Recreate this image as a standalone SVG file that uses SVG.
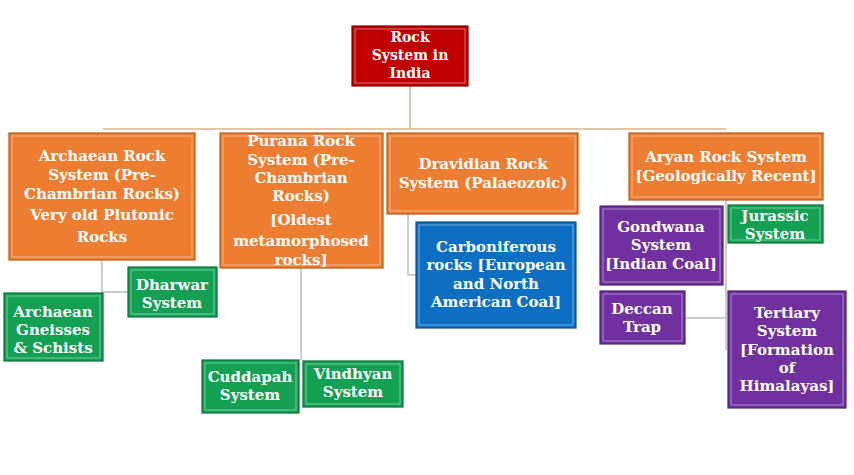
<svg xmlns="http://www.w3.org/2000/svg" width="854" height="475" viewBox="0 0 854 475">
<style>
text{font-family:"DejaVu Serif","Liberation Serif",serif;font-weight:bold;font-size:15px;fill:#fff;text-anchor:middle}
.o{fill:#ed7d31;stroke:#b85a1c;stroke-width:1.2}
.g{fill:#14a052;stroke:#0b6e37;stroke-width:1.2}
.b{fill:#0c6fc4;stroke:#0a4d8a;stroke-width:1.2}
.p{fill:#7030a0;stroke:#4d2070;stroke-width:1.2}
.r{fill:#c00000;stroke:#7a0000;stroke-width:1.2}
.in{fill:none;stroke:#fff;stroke-opacity:.45;stroke-width:1}
.c{fill:none;stroke:#bdbdbd;stroke-width:1.5}
</style>
<rect width="854" height="475" fill="#fff"/>
<g id="connectors">
<path d="M103 129H726M410 86V129" fill="none" stroke="#d9b48f" stroke-width="1.5"/>
<path class="c" d="M102 260V292H128"/>
<path class="c" d="M301 268V360"/>
<path class="c" d="M408 214V275H416"/>
<path class="c" d="M726 200V350M685 318H726"/>
</g>
<g id="root"><rect class="r" x="352" y="26" width="116" height="60"/><rect class="in" x="355" y="29" width="110" height="54"/>
<text x="410" y="42" style="font-size:14px">Rock</text><text x="410" y="60" style="font-size:14px">System in</text><text x="410" y="78" style="font-size:14px">India</text></g>
<g id="archaean"><rect class="o" x="9" y="133" width="186" height="127"/><rect class="in" x="12" y="136" width="180" height="121"/>
<text x="102" y="161">Archaean Rock</text><text x="102" y="180">System (Pre-</text><text x="102" y="199">Chambrian Rocks)</text><text x="102" y="220">Very old Plutonic</text><text x="102" y="242">Rocks</text></g>
<g id="purana"><rect class="o" x="220" y="133" width="163" height="135"/><rect class="in" x="223" y="136" width="157" height="129"/>
<text x="301" y="146">Purana Rock</text><text x="301" y="165">System  (Pre-</text><text x="301" y="183">Chambrian</text><text x="301" y="201">Rocks)</text><text x="301" y="225">[Oldest</text><text x="301" y="246">metamorphosed</text><text x="301" y="265">rocks]</text></g>
<g id="dravidian"><rect class="o" x="387" y="133" width="191" height="81"/><rect class="in" x="390" y="136" width="185" height="75"/>
<text x="483" y="169">Dravidian Rock</text><text x="483" y="188">System (Palaeozoic)</text></g>
<g id="aryan"><rect class="o" x="629" y="133" width="194" height="67"/><rect class="in" x="632" y="136" width="188" height="61"/>
<text x="726" y="162">Aryan Rock System</text><text x="726" y="181">[Geologically Recent]</text></g>
<g id="dharwar"><rect class="g" x="128" y="267" width="89" height="50"/><rect class="in" x="131" y="270" width="83" height="44"/>
<text x="172" y="290">Dharwar</text><text x="172" y="308">System</text></g>
<g id="gneisses"><rect class="g" x="4" y="293" width="99" height="68"/><rect class="in" x="7" y="296" width="93" height="62"/>
<text x="53" y="317">Archaean</text><text x="53" y="335">Gneisses</text><text x="53" y="353">&amp; Schists</text></g>
<g id="cuddapah"><rect class="g" x="202" y="360" width="97" height="53"/><rect class="in" x="205" y="363" width="91" height="47"/>
<text x="250" y="382">Cuddapah</text><text x="250" y="400">System</text></g>
<g id="vindhyan"><rect class="g" x="303" y="361" width="100" height="46"/><rect class="in" x="306" y="364" width="94" height="40"/>
<text x="353" y="379">Vindhyan</text><text x="353" y="397">System</text></g>
<g id="carboniferous"><rect class="b" x="416" y="222" width="160" height="106"/><rect class="in" x="419" y="225" width="154" height="100"/>
<text x="496" y="252">Carboniferous</text><text x="496" y="270">rocks [European</text><text x="496" y="289">and North</text><text x="496" y="307">American Coal]</text></g>
<g id="gondwana"><rect class="p" x="600" y="206" width="123" height="79"/><rect class="in" x="603" y="209" width="117" height="73"/>
<text x="661" y="232">Gondwana</text><text x="661" y="250">System</text><text x="661" y="269">[Indian Coal]</text></g>
<g id="jurassic"><rect class="g" x="728" y="205" width="95" height="38"/><rect class="in" x="731" y="208" width="89" height="32"/>
<text x="775" y="221">Jurassic</text><text x="775" y="239">System</text></g>
<g id="deccan"><rect class="p" x="600" y="291" width="85" height="53"/><rect class="in" x="603" y="294" width="79" height="47"/>
<text x="642" y="314">Deccan</text><text x="642" y="332">Trap</text></g>
<g id="tertiary"><rect class="p" x="728" y="291" width="118" height="117"/><rect class="in" x="731" y="294" width="112" height="111"/>
<text x="787" y="318">Tertiary</text><text x="787" y="336">System</text><text x="787" y="355">[Formation</text><text x="787" y="373">of</text><text x="787" y="391">Himalayas]</text></g>
</svg>
